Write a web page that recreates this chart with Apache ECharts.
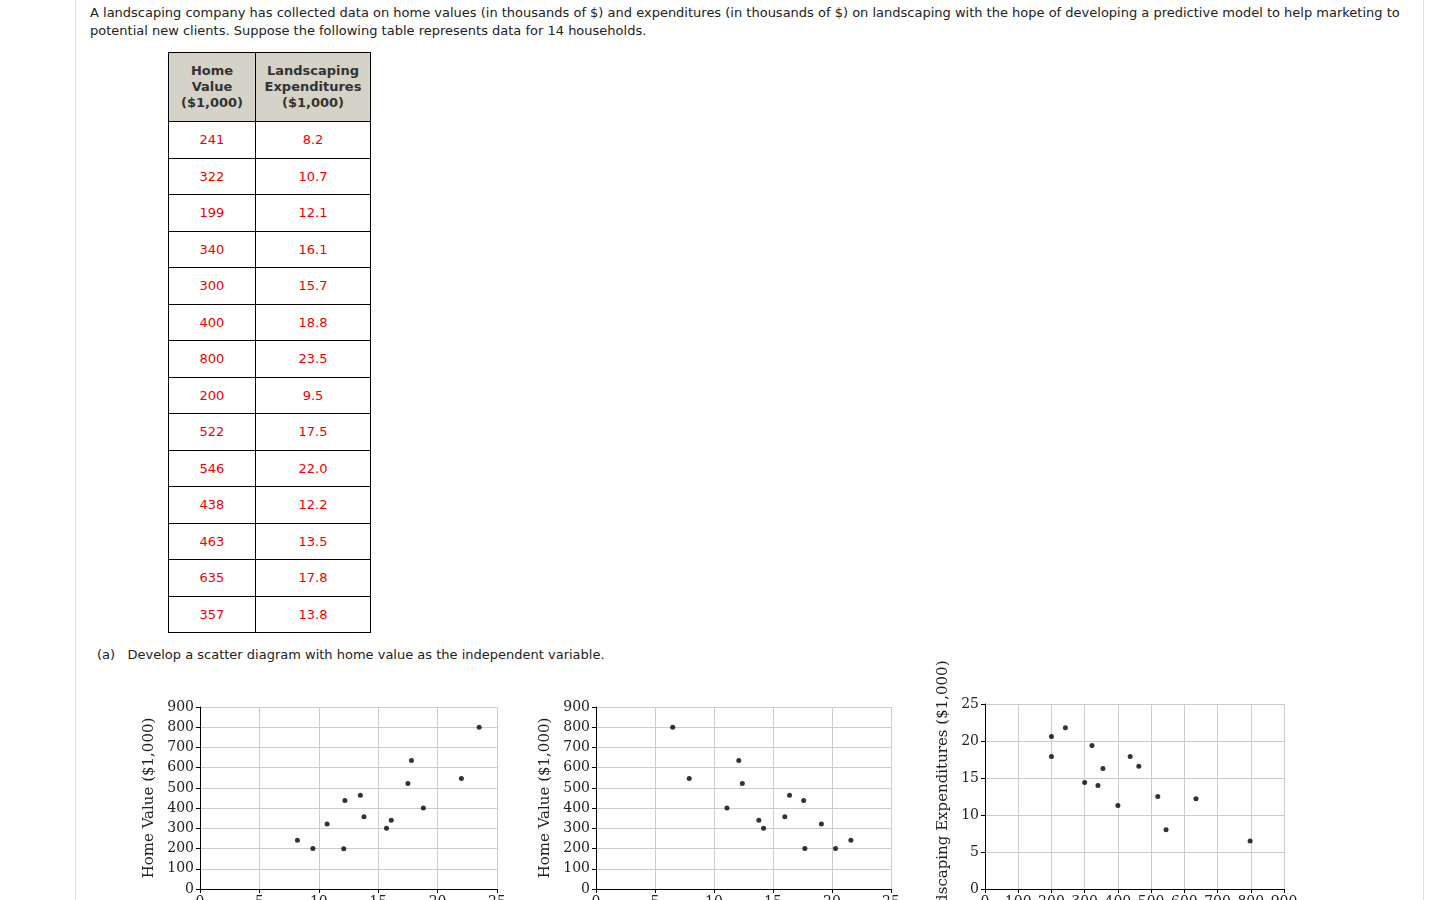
<!DOCTYPE html>
<html>
<head>
<meta charset="utf-8">
<script src="https://cdn.jsdelivr.net/npm/echarts@6/dist/echarts.min.js"></script>
<style>
  body { margin:0; background:#fff; font-family: Verdana, "DejaVu Sans", sans-serif; font-size:13px; color:#222; overflow:hidden; }
  .page { position:absolute; left:75px; top:-2px; width:1347px; height:920px; border-left:1px solid #ddd; border-right:1px solid #ddd; }
  .intro { position:absolute; left:90px; top:4px; width:1320px; line-height:18px; }
  table { position:absolute; left:168px; top:52px; border-collapse:collapse; }
  th { background:#d5d2c7; font-weight:bold; height:68px; padding:0 4px; border:1px solid #000; line-height:16px; color:#333; }
  td { border:1px solid #000; height:35.5px; text-align:center; color:#e00; padding:0; }
  .q { position:absolute; left:97px; top:647px; }
  .chart { position:absolute; }
</style>
</head>
<body>
<div class="page"></div>
<div class="intro">A landscaping company has collected data on home values (in thousands of $) and expenditures (in thousands of $) on landscaping with the hope of developing a predictive model to help marketing to potential new clients. Suppose the following table represents data for 14 households.</div>
<table id="tbl"></table>
<div class="q">(a)&nbsp;&nbsp;&nbsp;Develop a scatter diagram with home value as the independent variable.</div>
<div id="c1" class="chart" style="left:140px;top:690px;width:370px;height:230px"></div>
<div id="c2" class="chart" style="left:536px;top:690px;width:370px;height:230px"></div>
<div id="c3" class="chart" style="left:925px;top:640px;width:380px;height:280px"></div>
<script>
// table data
var homeValue = [241, 322, 199, 340, 300, 400, 800, 200, 522, 546, 438, 463, 635, 357];
var landscaping = ['8.2', '10.7', '12.1', '16.1', '15.7', '18.8', '23.5', '9.5', '17.5', '22.0', '12.2', '13.5', '17.8', '13.8'];

// option A: expenditure (x) vs home value (y)
var optA = [[8.2,241],[9.5,200],[10.7,322],[12.1,199],[12.2,438],[13.5,463],[13.8,357],[15.7,300],[16.1,340],[17.5,522],[17.8,635],[18.8,400],[22.0,546],[23.5,800]];
// option B
var optB = [[6.5,800],[7.9,546],[11.1,400],[12.1,635],[12.4,522],[13.8,340],[14.2,300],[16.0,357],[16.4,463],[17.6,438],[17.7,200],[19.1,322],[20.3,200],[21.6,241]];
// option C: home value (x) vs expenditure (y)
var optC = [[200,20.6],[200,17.9],[242,21.8],[300,14.4],[322,19.4],[340,14.0],[355,16.3],[400,11.3],[437,17.9],[463,16.6],[520,12.5],[545,8.0],[635,12.2],[798,6.5]];

var html = '<tr><th style="width:78px">Home<br>Value<br>($1,000)</th><th style="width:106px">Landscaping<br>Expenditures<br>($1,000)</th></tr>';
for (var i = 0; i < homeValue.length; i++) {
    html += '<tr><td>' + homeValue[i] + '</td><td>' + landscaping[i] + '</td></tr>';
}
document.getElementById('tbl').innerHTML = html;

var serif = '"DejaVu Serif", "Liberation Serif", serif';

function axisStyle(min, max, step) {
    return {
        type: 'value', min: min, max: max, interval: step,
        axisLine: { show: true, lineStyle: { color: '#000' } },
        axisTick: { show: true, lineStyle: { color: '#000' }, length: 4 },
        axisLabel: { color: '#222', fontFamily: serif, fontSize: 14, margin: 6 },
        splitLine: { show: true, lineStyle: { color: '#ccc' } }
    };
}

function makeChart(id, data, grid, xMin, xMax, xStep, yMin, yMax, yStep, yName) {
    var chart = echarts.init(document.getElementById(id));
    var x = axisStyle(xMin, xMax, xStep);
    var y = axisStyle(yMin, yMax, yStep);
    y.name = yName;
    y.nameLocation = 'middle';
    y.nameGap = grid.nameGap;
    y.nameTextStyle = { fontFamily: serif, fontSize: 15, color: '#222' };
    grid.g.outerBoundsMode = 'none';
    grid.g.containLabel = false;
    chart.setOption({
        animation: false,
        grid: grid.g,
        xAxis: x,
        yAxis: y,
        series: [{ type: 'scatter', symbolSize: 5, itemStyle: { color: '#000' }, data: data }]
    });
}

makeChart('c1', optA, { g: { left: 60, top: 17, width: 297, height: 182 }, nameGap: 42 }, 0, 25, 5, 0, 900, 100, 'Home Value ($1,000)');
makeChart('c2', optB, { g: { left: 60, top: 17, width: 295, height: 182 }, nameGap: 42 }, 0, 25, 5, 0, 900, 100, 'Home Value ($1,000)');
makeChart('c3', optC, { g: { left: 60, top: 64, width: 299, height: 185 }, nameGap: 30 }, 0, 900, 100, 0, 25, 5, 'Landscaping Expenditures ($1,000)');
</script>
</body>
</html>
